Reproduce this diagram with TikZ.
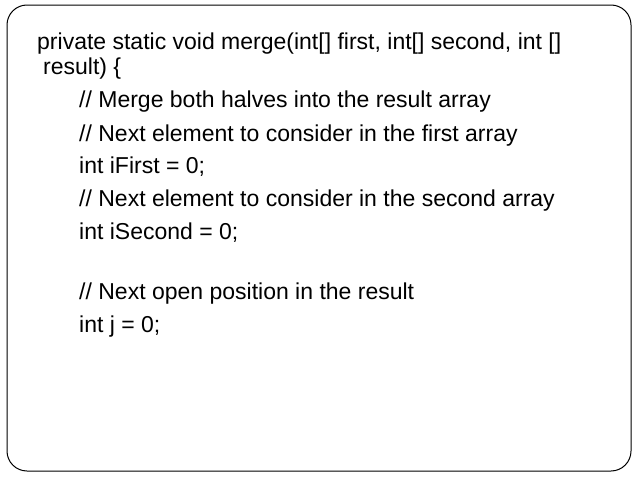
\documentclass[tikz,border=0pt]{standalone}
\usepackage{fontspec}
\setmainfont{Liberation Sans}
\begin{document}
\begin{tikzpicture}[x=1pt,y=-1pt,
  code/.style={anchor=base west,inner sep=0pt,font=\fontsize{23}{26}\selectfont}]
\useasboundingbox (0,0) rectangle (638,479);
\draw[line width=1pt,rounded corners=20pt] (7,5) rectangle (631,471);
\node[code] (l1) at (37,49) {private static void merge(int[] first, int[] second, int []};
\node[code] (l2) at (43,74) {result) \{};
\node[code] (l3) at (79,107) {// Merge both halves into the result array};
\node[code] (l4) at (79,141) {// Next element to consider in the first array};
\node[code] (l5) at (79,173) {int iFirst = 0;};
\node[code] (l6) at (79,206) {// Next element to consider in the second array};
\node[code] (l7) at (79,239) {int iSecond = 0;};
\node[code] (l8) at (79,299) {// Next open position in the result};
\node[code] (l9) at (79,332) {int j = 0;};
\end{tikzpicture}
\end{document}
